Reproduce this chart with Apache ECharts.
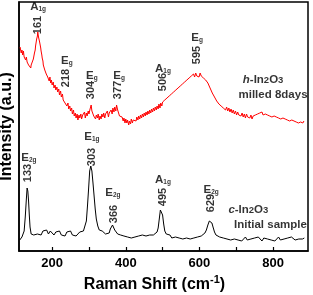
<!DOCTYPE html>
<html><head><meta charset="utf-8">
<script src="https://cdn.jsdelivr.net/npm/echarts@6/dist/echarts.min.js"></script>
<style>html,body{margin:0;padding:0;background:#fff}#c{width:313px;height:295px}</style>
</head><body><div id="c"></div>
<script>
var milledShift = [113,116,118,120,122,124,126,128,130,132,134,136,137,139,140,142,143,145,146,148,149,151,152,154,155,157,158,160,161,163,164,166,167,169,170,172,173,175,176,178,180,182,184,186,188,190,192,194,196,198,200,203,205,208,210,213,215,218,220,223,225,228,230,233,235,238,240,243,245,248,250,253,255,258,260,263,265,268,270,273,275,278,280,283,285,288,290,293,295,298,300,303,306,308,310,313,315,318,320,323,325,328,330,333,335,338,340,343,345,348,350,353,355,358,360,363,365,368,370,373,375,378,380,383,385,388,390,393,395,398,400,403,405,408,410,413,415,418,420,423,425,428,430,433,435,438,440,443,445,448,450,453,455,458,460,463,465,468,470,473,475,478,480,483,485,488,490,493,495,498,500,503,506,509,512,515,518,521,524,527,530,533,536,539,542,545,548,551,554,557,560,563,566,569,572,575,578,581,584,587,590,593,596,599,602,605,608,611,614,617,620,623,626,629,632,635,638,641,644,647,650,653,656,659,662,665,668,671,674,677,680,683,686,689,692,695,698,701,704,707,710,713,716,719,722,725,728,731,734,737,740,743,746,749,752,755,758,761,764,767,770,773,776,779,782,785,788,791,794,797,800,803,806,809,812,815,818,821,824,827,830,833,836,839,842,845,848,851,854,857,860,863,866,869,872,875,878,881,884,887,890,893,895];
var milledIntensity = [204,198,201,196,200,194,196,191,194,189,191,186,188,184,188,183,186,185,189,187,192,194,198,201,205,207,212,215,219,214,216,209,210,203,200,196,193,190,186,188,181,183,177,179,174,176,170,174,168,171,166,169,163,166,161,164,159,162,156,160,154,157,151,153,148,150,145,148,142,145,140,143,137,141,135,138,133,137,131,136,133,137,132,136,134,139,133,138,135,140,137,142,146,140,139,135,137,132,136,133,137,131,135,132,137,134,138,133,137,135,140,134,138,136,141,137,143,139,144,140,146,141,139,135,137,133,134,130,133,128,132,128,131,126,130,127,132,128,131,129,133,130,134,131,135,132,136,133,137,134,138,135,139,136,140,137,141,138,142,139,143,140,144,141,145,142,147,143,148,145,149,147,151,149,153,151,155,153,157,155,159,157,161,159,163,161,165,163,167,165,169,167,171,170,173,172,175,173,177,174,178,175,177,174,178,175,176,173,175,171,172,168,167,163,162,158,157,154,153,150,150,147,148,145,146,143,145,141,144,140,143,139,142,138,141,137,140,136,139,136,138,135,138,134,137,133,137,134,136,133,136,132,135,133,136,134,137,135,138,136,139,136,138,137,139,136,138,135,137,134,136,135,137,134,136,133,135,132,134,133,135,132,134,131,133,130,132,131,133,130,132,129,131,128,130,129,131,128,130];

var initialShift = [112,115,118,121,124,127,130,132,134,136,138,140,143,146,150,155,160,165,170,175,180,185,190,195,200,205,210,215,220,225,230,235,240,245,250,255,260,265,270,275,280,285,289,293,296,299,302,305,308,311,314,317,320,324,328,332,336,340,345,350,355,358,361,364,367,370,374,378,382,386,390,395,400,405,410,415,420,425,430,435,440,445,450,455,460,465,470,475,480,485,488,491,494,497,500,503,506,510,515,520,525,530,535,540,545,550,555,560,565,570,575,580,585,590,595,600,605,610,615,619,623,627,631,634,637,641,645,650,655,660,665,670,675,680,685,690,695,700,705,710,715,720,725,730,735,740,745,750,755,760,765,770,775,780,785,790,795,800,805,810,815,820,825,830,835,840,845,850,855,860,865,870,875,880,885,890,895];
var initialIntensity = [11,9,14,13,20,34,52,63,60,50,36,24,17,19,16,18,17,19,16,20,18,21,17,20,19,16,19,17,20,16,18,15,19,17,20,16,18,15,17,19,17,20,22,30,45,62,80,85,80,68,55,42,32,25,21,19,20,18,17,19,18,22,24,26,25,21,19,17,19,16,18,15,17,14,16,13,15,14,12,15,13,16,14,15,13,16,14,16,17,19,23,32,41,42,36,27,20,17,15,16,13,15,14,16,13,15,12,14,13,15,12,14,13,15,14,16,15,17,18,21,26,30,31,28,24,19,16,15,14,16,13,15,12,14,11,13,12,14,11,13,10,12,14,11,13,12,10,13,11,14,12,10,13,11,12,14,11,13,10,12,14,11,13,12,10,13,11,14,12,11,13,12,14,12,13];

var xLabelValues = [200,400,600,800];
var xTickValues = [200,300,400,500,600,700,800];

// annotations: [shift, intensity, text]
var milledNotes = [
  [162,244,'{m|A}{s|1g}'],[162,226,'161'],
  [240,190,'{m|E}{s|g}'],[238,173,'218'],
  [308,175,'{m|E}{s|g}'],[306,161,'304'],
  [382,175,'{m|E}{s|g}'],[379,161,'377'],
  [501,182,'{m|A}{s|1g}'],[501,169,'506'],
  [594,213,'{m|E}{s|g}'],[594,196,'595']
];
var initialNotes = [
  [137,93,'{m|E}{s|2g}'],[134,78,'133'],
  [308,114,'{m|E}{s|1g}'],[308,94,'303'],
  [365,58,'{m|E}{s|2g}'],[368,37,'366'],
  [501,71,'{m|A}{s|1g}'],[501,54,'495'],
  [632,61,'{m|E}{s|2g}'],[632,48,'629']
];
var sampleNotes = [
  [773,171,'{i|h}{n|-In}{t|2}{n|O}{t|3}'],
  [800,156,'{n|milled 8days}'],
  [733,41,'{i|c}{n|-In}{t|2}{n|O}{t|3}'],
  [793,26,'{n|Initial sample}']
];

var FF = '"Liberation Sans", Arial, sans-serif';
var rich = {
  m:{fontFamily:FF,fontWeight:'bold',fontSize:11.5,color:'#000'},
  n:{fontFamily:FF,fontWeight:'bold',fontSize:11.5,color:'#000'},
  i:{fontFamily:FF,fontStyle:'italic',fontSize:11.5,color:'#000'},
  t:{fontFamily:FF,fontWeight:'bold',fontSize:9.5,color:'#000'},
  s:{fontFamily:FF,fontWeight:'bold',fontSize:6.5,color:'#000',padding:[5,0,0,0]}
};

function noteSeries(arr){
  return {
    type:'scatter', symbolSize:0, silent:true, z:10,
    data: arr.map(function(a){
      var isNum = /^\d+$/.test(a[2]);
      return {value:[a[0],a[1]], label:{
        show:true, position:'inside', formatter:a[2], rotate: isNum?90:0,
        fontFamily:FF, fontWeight:'bold', fontSize:11, color:'#000', rich:rich
      }};
    })
  };
}

var chart = echarts.init(document.getElementById('c'), null, {renderer:'canvas'});
chart.setOption({
  animation:false,
  backgroundColor:'#fff',
  grid:{left:19,right:5,top:2,bottom:44,show:true,borderColor:'#000',borderWidth:1.5,outerBoundsMode:'none',containLabel:false},
  xAxis:{
    type:'value', min:110, max:895,
    name:'{a|Raman Shift (cm}{s|-1}{a|)}', nameLocation:'middle', nameGap:21,
    nameTextStyle:{padding:[0,18,0,0],rich:{
      a:{fontFamily:FF,fontWeight:'bold',fontSize:16,color:'#000'},
      s:{fontFamily:FF,fontWeight:'bold',fontSize:11,color:'#000',padding:[0,0,9,0]}
    }},
    axisLine:{lineStyle:{color:'#000',width:1.5}},
    axisTick:{inside:true,length:4,lineStyle:{color:'#000',width:1.2},customValues:xTickValues},
    axisLabel:{customValues:xLabelValues,fontFamily:FF,fontWeight:'bold',fontSize:13,color:'#000',margin:6},
    splitLine:{show:false}
  },
  yAxis:{
    type:'value', min:0, max:249,
    name:'Intensity (a.u.)', nameLocation:'middle', nameGap:4,
    nameTextStyle:{fontFamily:FF,fontWeight:'bold',fontSize:16,color:'#000'},
    axisLine:{show:true,lineStyle:{color:'#000',width:1.5}},
    axisTick:{show:false}, axisLabel:{show:false}, splitLine:{show:false}
  },
  series:[
    {type:'line', data:milledShift.map(function(x,i){return [x,milledIntensity[i]];}),
     showSymbol:false, lineStyle:{color:'#ff0000',width:1}, silent:true},
    {type:'line', data:initialShift.map(function(x,i){return [x,initialIntensity[i]];}),
     showSymbol:false, lineStyle:{color:'#000',width:1}, silent:true},
    noteSeries(milledNotes), noteSeries(initialNotes), noteSeries(sampleNotes)
  ]
});
</script></body></html>
